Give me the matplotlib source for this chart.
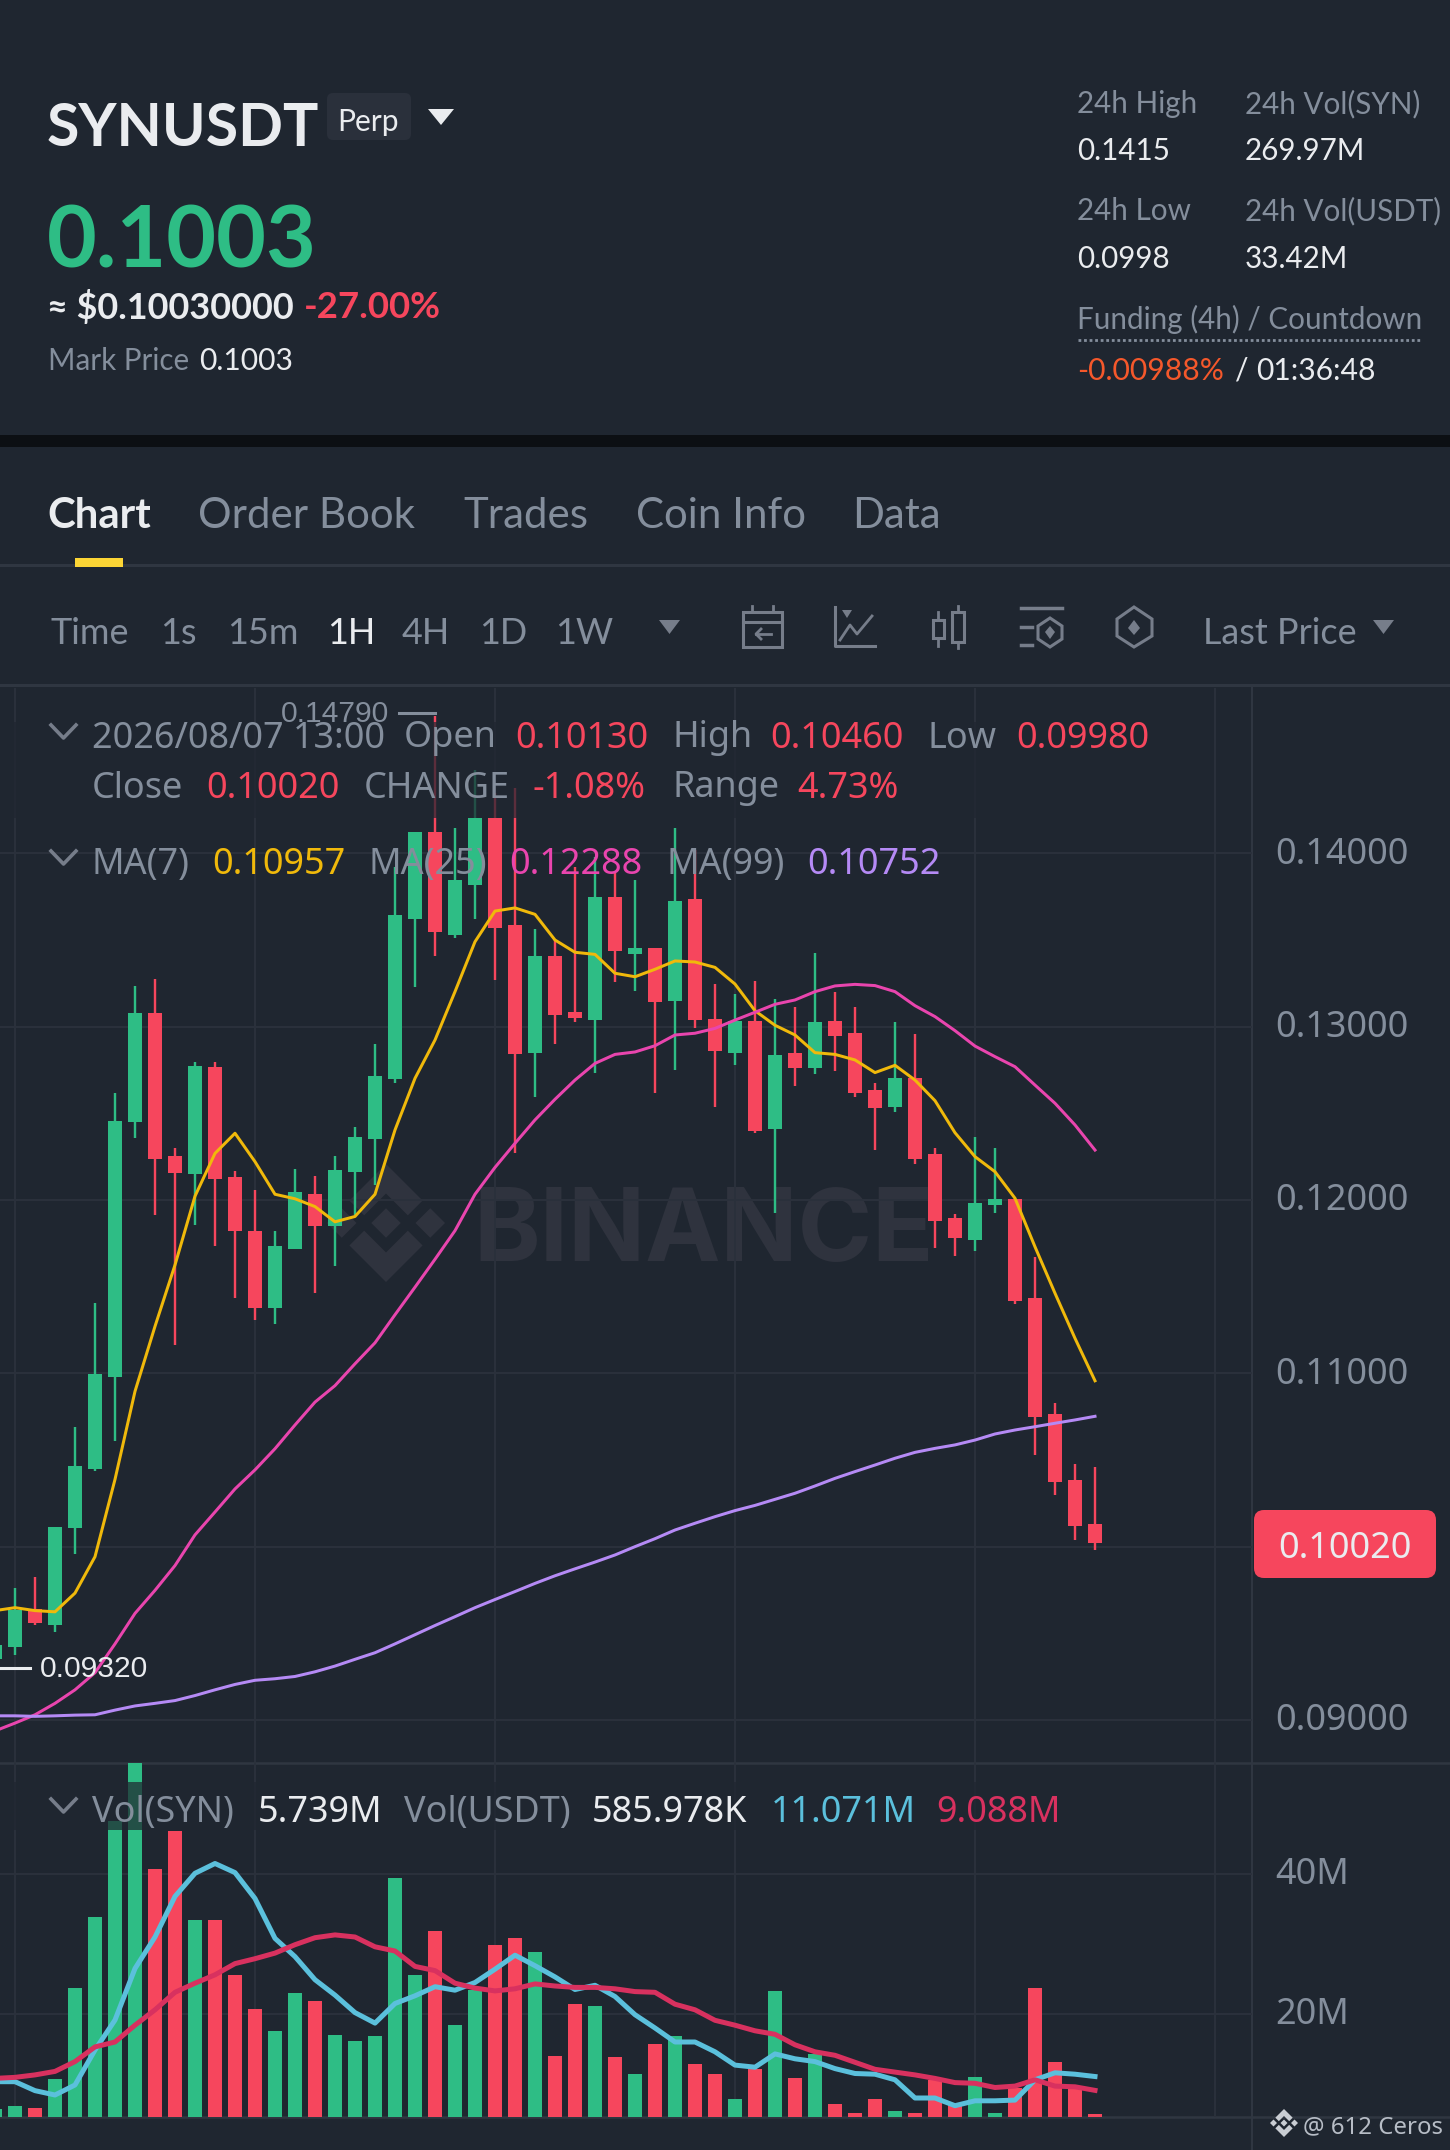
import matplotlib
matplotlib.use('Agg')
import matplotlib.pyplot as plt
from matplotlib.patches import Rectangle, FancyBboxPatch, Polygon
from matplotlib.transforms import ScaledTranslation

# --- Data (index 0 is the candle cut by the left edge)
opens = [.0935, .09421, .09642, .09549, .10108, .10448, .10978, .1245, .13077, .12254,
         .12148, .12765, .12132, .11823, .11377, .11717, .12033, .1185, .12159, .1235,
         .127, .13619, .14125, .13529, .13817, .14202, .13587, .1285, .13408, .13085,
         .13038, .13746, .13419, .13456, .1315, .13735, .13044, .1285, .13035, .1241,
         .12846, .1276, .13035, .12965, .12635, .12538, .12706, .12265, .11896, .11769,
         .11969, .12004, .11437, .10765, .10385, .1013]
highs = [.0943, .09763, .09825, .10112, .10693, .11404, .12615, .13237, .13275, .12298,
         .12794, .12794, .12166, .12055, .11823, .12177, .12137, .12256, .12423, .12898,
         .13923, .14125, .1479, .14144, .14481, .14346, .14375, .13562, .135, .13923,
         .13981, .13885, .13846, .13456, .14144, .14019, .13246, .13187, .13265, .13158,
         .13115, .13427, .13198, .13115, .12677, .13025, .12958, .12298, .11917, .12365,
         .12298, .12004, .11669, .10827, .10477, .1046]
lows = [.0932, .09377, .09549, .09509, .09958, .10437, .10609, .1236, .11912, .11165,
        .11856, .11735, .11437, .11309, .11287, .11717, .11466, .11618, .11916, .12088,
        .12677, .13227, .13408, .1351, .13619, .13269, .12269, .12596, .12898, .13029,
        .12731, .1326, .13208, .12619, .1275, .1299, .12538, .12779, .12388, .11927,
        .1266, .12727, .12746, .12596, .12288, .1251, .12208, .11721, .11679, .11708,
        .11927, .1140, .10529, .10298, .10038, .0998]
closes = [.0943, .09637, .09558, .10112, .10463, .10995, .12456, .13077, .12238, .12158,
          .12775, .12121, .11819, .11377, .11735, .12044, .1185, .12172, .12365, .12715,
          .13644, .14125, .13548, .13846, .14202, .13571, .1284, .13408, .13067, .13048,
          .13746, .13438, .13456, .1314, .13725, .13038, .12862, .13035, .124, .12837,
          .1276, .13025, .12948, .12619, .12529, .12706, .12237, .11881, .11779, .11985,
          .12004, .11419, .1075, .10371, .10121, .1002]
ma7 = [.09631, .09648, .09631, .09624, .09732, .09942, .10388, .10896, .11271, .11625,
       .12022, .12269, .12385, .12221, .12033, .12007, .11962, .11874, .11905, .12033,
       .12404, .12702, .12923, .13202, .1349, .13667, .13685, .13648, .135, .13429,
       .13417, .13308, .13288, .13331, .13379, .13373, .13342, .13246, .13092, .13008,
       .12952, .1285, .1284, .12808, .12735, .12777, .12692, .12573, .12388, .1225,
       .12163, .1201, .1173, .11462, .11202, .10957]
ma25 = [.08937, .08982, .0903, .09096, .09174, .09273, .09439, .09615, .09748, .09891,
        .10068, .102, .10333, .10443, .10565, .10702, .10834, .10929, .11055, .11176,
        .11338, .11497, .11658, .11823, .12033, .12188, .12327, .12462, .12581, .12692,
        .12788, .1284, .12854, .1289, .12952, .12962, .1299, .13038, .13083, .13129,
        .13154, .13202, .13235, .13244, .13237, .13202, .13121, .13058, .12977, .12888,
        .12827, .12769, .12663, .12558, .12433, .12288]
ma99 = [.09024, .09024, .09021, .09024, .09028, .0903, .09057, .09081, .09096, .09112,
        .09141, .09174, .09205, .09229, .09238, .09251, .09278, .09311, .0935, .09388,
        .09439, .09492, .09545, .09596, .09648, .09695, .09741, .09788, .09832, .09872,
        .09911, .09952, .1, .10046, .10096, .10135, .10173, .10208, .10238, .10273,
        .10308, .1035, .10394, .10433, .10471, .1051, .10544, .10567, .10587, .10615,
        .1065, .10673, .10692, .10712, .10731, .10752]
volumes = [6.38, 6.9, 6.52, 10.67, 23.7, 33.8, 47.6, 55.8, 40.67, 46.2,
           33.4, 33.4, 25.6, 20.7, 17.6, 23, 21.8, 17, 16.1, 16.8,
           39.5, 25.6, 31.8, 18.5, 23.4, 29.8, 30.9, 28.8, 14, 21.4,
           21.2, 13.8, 11.4, 15.7, 16.9, 12.8, 11.4, 7.8, 12.2, 23.3,
           10.9, 14.3, 7.2, 5.8, 7.8, 6.2, 5.8, 10.6, 7, 11,
           5.8, 9.4, 23.7, 13.1, 9.4, 5.74]
vol_ma_fast = [10.33, 10.33, 9.05, 8.43, 9.86, 14.86, 19.14, 26.5, 31, 36.8,
               40.1, 41.5, 40.2, 36.5, 30.8, 28.2, 24.9, 22.7, 20.2, 18.7,
               21.5, 22.6, 23.9, 23.4, 24.5, 26.4, 28.4, 26.9, 25.3, 23.5,
               24.1, 22.5, 19.9, 18, 16, 16, 14.6, 12.7, 12.4, 14.3,
               13.6, 13.2, 12.2, 11.5, 11.4, 10.6, 8, 8, 6.9, 7.6,
               7.6, 7.7, 10.6, 11.6, 11.4, 11.07]
vol_ma_slow = [10.8, 10.95, 11.3, 11.8, 13.2, 15.3, 16, 18.4, 20.6, 23.1,
               24.4, 25.6, 27.2, 27.9, 28.7, 29.9, 30.9, 31.3, 31, 29.6,
               29, 26.8, 26.2, 24.4, 23.7, 23.3, 23.6, 24.3, 24, 23.8,
               23.8, 23.6, 23.2, 23.1, 21.4, 20.6, 19.1, 18.4, 17.6, 17.1,
               15.6, 14.6, 14.1, 13.1, 12.1, 11.7, 11.3, 10.8, 10.2, 10.1,
               9.5, 9.7, 10.6, 9.7, 9.6, 9.09]
price_ticks = [.09, .10, .11, .12, .13, .14]
price_tick_labels = ['0.09000', '', '0.11000', '0.12000', '0.13000', '0.14000']  # 0.10 sits under the price tag
volume_ticks = [20, 40]
volume_tick_labels = ['20M', '40M']
time_ticks = [1, 13, 25, 37, 49, 61]

# --- Colours
BG = '#1F2630'
BAND = '#0C0F13'
GRID = '#2A303B'
LINE = '#2F3641'
GREY = '#848E9C'
DIM = '#767D8A'
WHITE = '#EAECEF'
UP = '#2EBD85'
DOWN = '#F6465D'
YELLOW = '#F0B90B'
PINK = '#E945AE'
PURPLE = '#B58AF5'
CYAN = '#5BC0DC'
ROSE = '#D8315F'
MARK = '#2F333E'

W, H = 1450, 2150
UI = 'Lato'
CANVAS = 'Noto Sans'
PT = 0.72  # px to pt at dpi 100

fig = plt.figure(figsize=(W / 100, H / 100), dpi=100, facecolor=BG)


def px_axes(x0, y0, x1, y1, z):
    ax = fig.add_axes([x0 / W, 1 - y1 / H, (x1 - x0) / W, (y1 - y0) / H], zorder=z)
    ax.patch.set_alpha(0)
    for s in ax.spines.values():
        s.set_visible(False)
    return ax


def page_axes(z):
    ax = px_axes(0, 0, W, H, z)
    ax.set_xlim(0, W)
    ax.set_ylim(H, 0)
    ax.axis('off')
    return ax


def logo(ax, cx, cy, r, color, z=1):
    # diamonds and chevrons of the exchange mark, unit size
    shapes = [[(0, .25), (.25, 0), (0, -.25), (-.25, 0)],
              [(.75, .25), (1, 0), (.75, -.25), (.5, 0)],
              [(-.75, .25), (-.5, 0), (-.75, -.25), (-1, 0)],
              [(0, 1), (.62, .38), (.37, .13), (0, .5), (-.37, .13), (-.62, .38)],
              [(0, -1), (.62, -.38), (.37, -.13), (0, -.5), (-.37, -.13), (-.62, -.38)]]
    for s in shapes:
        ax.add_patch(Polygon([(cx + a * r, cy - b * r) for a, b in s], fc=color, ec='none', zorder=z))


def nudge_tick_labels(ax):
    # axis labels sit a little above the grid line
    up = ScaledTranslation(0, 3 / 100, fig.dpi_scale_trans)
    for lab in ax.get_yticklabels():
        lab.set_transform(lab.get_transform() + up)


back = page_axes(0)
over = page_axes(3)


def txt(x, y, s, color=GREY, size=28, font=UI, weight='normal', ha='left'):
    over.text(x, y, s, color=color, fontsize=size * PT, family=font, fontweight=weight,
              ha=ha, va='center_baseline', zorder=6)


# --- Page background pieces
back.add_patch(Rectangle((0, 435), W, 12, fc=BAND, ec='none'))
back.plot([0, W], [565, 565], color=LINE, lw=2.2)
back.plot([0, W], [685, 685], color=LINE, lw=2.2)
back.add_patch(Rectangle((75, 558), 48, 9, fc='#FCD535', ec='none', zorder=3))
back.plot([1252, 1252], [686, H], color=LINE, lw=1.5)
back.plot([0, W], [1763, 1763], color=LINE, lw=1.8)
back.plot([0, W], [2117, 2117], color=LINE, lw=1.8)
back.text(473, 1224, 'BINANCE', color=MARK, fontsize=101 * PT, family='Inter', fontweight='bold',
          ha='left', va='center_baseline')
logo(back, 386, 1223, 59, MARK)

# --- Price pane: 0.14 sits at y=853.3, 0.01 is 173.33 px, candle i at x=-5+20i
price_ax = px_axes(0, 688, 1252, 1762, 1)
price_ax.set_xlim(0.25, 62.85)
price_ax.set_ylim(.14 - (1762 - 853.33) / 17333, .14 - (688 - 853.33) / 17333)
xs = list(range(len(opens)))
for i in xs:
    c = UP if closes[i] >= opens[i] else DOWN
    price_ax.vlines(i, lows[i], highs[i], color=c, lw=2.4 * PT, zorder=3)
    price_ax.bar(i, abs(closes[i] - opens[i]), bottom=min(opens[i], closes[i]), width=.7,
                 color=c, zorder=3)
price_ax.plot(xs, ma7, color=YELLOW, lw=3 * PT, zorder=4, solid_joinstyle='round')
price_ax.plot(xs, ma25, color=PINK, lw=3 * PT, zorder=4, solid_joinstyle='round')
price_ax.plot(xs, ma99, color=PURPLE, lw=3 * PT, zorder=4, solid_joinstyle='round')
price_ax.set_xticks(time_ticks)
price_ax.set_xticklabels([])
price_ax.set_yticks(price_ticks)
price_ax.set_yticklabels(price_tick_labels, family=CANVAS, fontsize=36 * PT, color=GREY)
price_ax.yaxis.tick_right()
price_ax.tick_params(length=0, pad=23 * PT)
price_ax.grid(True, color=GRID, lw=2 * PT, zorder=0)
price_ax.set_axisbelow(True)
nudge_tick_labels(price_ax)

# --- Volume pane: 40M at y=1874, 20M at y=2014, the pane does not start at zero
vol_ax = px_axes(0, 1763, 1252, 2117, 1)
vol_ax.set_xlim(0.25, 62.85)
vol_ax.set_ylim(40 - (2117 - 1874) / 7, 40 - (1763 - 1874) / 7)
vol_colors = [UP if closes[i] >= opens[i] else DOWN for i in xs]
vol_ax.bar(xs, volumes, width=.7, color=vol_colors, zorder=3)
vol_ax.plot(xs, vol_ma_fast, color=CYAN, lw=5 * PT, zorder=4, solid_joinstyle='round')
vol_ax.plot(xs, vol_ma_slow, color=ROSE, lw=5 * PT, zorder=5, solid_joinstyle='round')
vol_ax.set_xticks(time_ticks)
vol_ax.set_xticklabels([])
vol_ax.set_yticks(volume_ticks)
vol_ax.set_yticklabels(volume_tick_labels, family=CANVAS, fontsize=36 * PT, color=GREY)
vol_ax.yaxis.tick_right()
vol_ax.tick_params(length=0, pad=23 * PT)
vol_ax.grid(True, color=GRID, lw=2 * PT, zorder=0)
vol_ax.set_axisbelow(True)
nudge_tick_labels(vol_ax)

# --- Legend blocks dim what is behind them
over.add_patch(Rectangle((0, 722), 1170, 96, fc=BG, ec='none', alpha=.72, zorder=1))
over.add_patch(Rectangle((0, 1782), 1080, 48, fc=BG, ec='none', alpha=.72, zorder=1))

# --- Header
txt(47, 124, 'SYNUSDT', WHITE, 59, weight='bold')
over.add_patch(FancyBboxPatch((331, 97), 76, 39, boxstyle='round,pad=4,rounding_size=6', fc='#2A303B', ec='none'))
txt(337, 120, 'Perp', WHITE, 30)
over.add_patch(Polygon([(428, 109), (454, 109), (441, 125)], fc=WHITE, ec='none'))
txt(47, 236, '0.1003', UP, 86, weight='bold')
txt(47, 305, '\u2248 $0.10030000', WHITE, 36, weight='bold')
txt(304, 305, '-27.00%', DOWN, 36.5, weight='bold')
txt(48, 359, 'Mark Price', GREY, 29.5)
txt(199, 359, '0.1003', WHITE, 30)
txt(1077, 102, '24h High', GREY, 29.6)
txt(1245, 102, '24h Vol(SYN)', GREY, 29.6)
txt(1077, 149, '0.1415', WHITE, 29.6)
txt(1245, 149, '269.97M', WHITE, 29.6)
txt(1077, 209, '24h Low', GREY, 29.6)
txt(1245, 209, '24h Vol(USDT)', GREY, 29.6)
txt(1077, 257, '0.0998', WHITE, 29.6)
txt(1245, 257, '33.42M', WHITE, 29.6)
txt(1077, 317, 'Funding (4h) / Countdown', GREY, 29.6)
over.plot([1078, 1422], [340, 340], color=GREY, lw=2, ls=(0, (1, 1)))
txt(1077, 368, '-0.00988%', '#F5582B', 30)
txt(1235, 368, '/', WHITE, 30)
txt(1256, 368, '01:36:48', WHITE, 30)

# --- Tabs and toolbar
txt(47, 512, 'Chart', WHITE, 42, weight='bold')
txt(198, 512, 'Order Book', GREY, 42)
txt(463, 512, 'Trades', GREY, 42)
txt(636, 512, 'Coin Info', GREY, 42)
txt(852, 512, 'Data', GREY, 42)
for x, s, c in [(51, 'Time', GREY), (160, '1s', GREY), (227, '15m', GREY), (327, '1H', WHITE),
                (402, '4H', GREY), (479, '1D', GREY), (555, '1W', GREY), (1203, 'Last Price', GREY)]:
    txt(x, 631, s, c, 36)
ICON = DIM
for x0 in (659, 1373):
    over.add_patch(Polygon([(x0, 620), (x0 + 21, 620), (x0 + 10.5, 634)], fc=ICON, ec='none'))
# calendar
over.add_patch(Rectangle((743, 612), 39, 35, fc='none', ec=ICON, lw=2.2))
over.plot([743, 782], [622, 622], color=ICON, lw=2.2)
over.plot([752, 752], [606, 612], color=ICON, lw=2)
over.plot([773, 773], [606, 612], color=ICON, lw=2)
over.plot([756, 771], [634, 634], color=ICON, lw=2)
over.plot([761, 756, 761], [629, 634, 639], color=ICON, lw=2)
# chart type
over.plot([835, 835, 875], [607, 646, 646], color=ICON, lw=2.2)
over.plot([840, 850, 857, 872], [640, 625, 634, 616], color=ICON, lw=2)
over.add_patch(Polygon([(842, 610), (852, 610), (847, 618)], fc=ICON, ec='none'))
# candles
over.add_patch(Rectangle((933, 620), 11, 18, fc='none', ec=ICON, lw=2.2))
over.add_patch(Rectangle((952, 612), 12, 30, fc='none', ec=ICON, lw=2.2))
over.plot([938.5, 938.5], [612, 620], color=ICON, lw=2)
over.plot([938.5, 938.5], [638, 646], color=ICON, lw=2)
over.plot([958, 958], [606, 612], color=ICON, lw=2)
over.plot([958, 958], [642, 648], color=ICON, lw=2)
# settings
over.plot([1021, 1062], [608, 608], color=ICON, lw=2.5)
over.plot([1021, 1032], [627, 627], color=ICON, lw=2.5)
over.plot([1021, 1032], [645, 645], color=ICON, lw=2.5)
over.add_patch(Polygon([(1050, 618), (1062, 626), (1062, 639), (1050, 647), (1038, 639), (1038, 626)],
                       fc='none', ec=ICON, lw=2.2))
over.add_patch(Polygon([(1050, 626), (1055, 632), (1050, 639), (1045, 632)], fc=ICON, ec='none'))
# hexagon
over.add_patch(Polygon([(1134, 607), (1152, 619), (1152, 636), (1134, 647), (1117, 636), (1117, 619)],
                       fc='none', ec=ICON, lw=2.2))
over.add_patch(Polygon([(1134, 620), (1140, 628), (1134, 635), (1128, 628)], fc=ICON, ec='none'))

# --- Chart legend
for cy in (732, 858, 1806):
    over.plot([51, 63.5, 76], [cy - 7, cy + 6, cy - 7], color=DIM, lw=2.6, zorder=6)
row1 = [(93, '2026/08/07 13:00', GREY), (405, 'Open', GREY), (516, '0.10130', DOWN), (674, 'High', GREY),
        (771, '0.10460', DOWN), (929, 'Low', GREY), (1017, '0.09980', DOWN)]
row2 = [(93, 'Close', GREY), (207, '0.10020', DOWN), (365, 'CHANGE', GREY), (534, '-1.08%', DOWN),
        (674, 'Range', GREY), (798, '4.73%', DOWN)]
row3 = [(93, 'MA(7)', GREY), (213, '0.10957', YELLOW), (370, 'MA(25)', GREY), (510, '0.12288', PINK),
        (668, 'MA(99)', GREY), (808, '0.10752', PURPLE)]
row4 = [(93, 'Vol(SYN)', GREY), (259, '5.739M', WHITE), (405, 'Vol(USDT)', GREY), (593, '585.978K', WHITE),
        (772, '11.071M', CYAN), (937, '9.088M', ROSE)]
for cy, row in ((734, row1), (784, row2), (861, row3), (1809, row4)):
    for x, s, c in row:
        txt(x - 1, cy, s, c, 36, font=CANVAS)

# --- Extremes on the chart, price tag, credit
txt(281, 711, '0.14790', GREY, 30, font='Liberation Sans')
over.plot([399, 435], [713, 713], color=GREY, lw=2.2, zorder=6)
over.plot([0, 30], [1668, 1668], color=WHITE, lw=2.2, zorder=6)
txt(40, 1666, '0.09320', WHITE, 30, font='Liberation Sans')
over.add_patch(FancyBboxPatch((1262, 1518), 166, 52, boxstyle='round,pad=8,rounding_size=10', fc=DOWN, ec='none', zorder=5))
txt(1345, 1544, '0.10020', WHITE, 36, font=CANVAS, ha='center')
logo(over, 1284, 2123, 14, '#C9CDD3', z=6)
txt(1303, 2124, '@ 612 Ceros', '#B7BDC6', 24, font='Noto Sans')

fig.savefig('out.png', dpi=100, facecolor=BG)
